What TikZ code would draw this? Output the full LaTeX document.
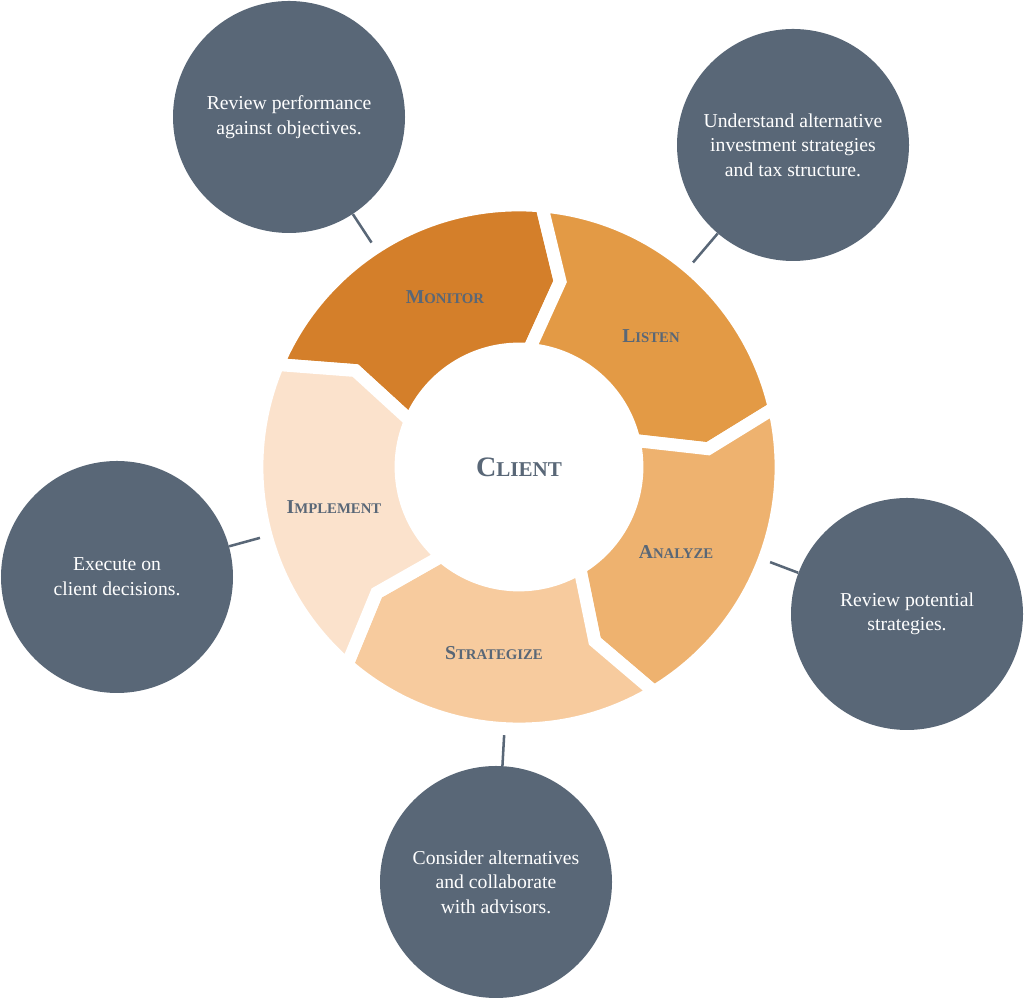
\documentclass[tikz,border=0pt]{standalone}
\usepackage{fontspec}
\setmainfont{Liberation Serif}
\usetikzlibrary{calc}
\definecolor{slate}{HTML}{596777}
\definecolor{cmon}{HTML}{D47F2A}
\definecolor{clis}{HTML}{E39A45}
\definecolor{cana}{HTML}{EEB26F}
\definecolor{cstr}{HTML}{F7CB9E}
\definecolor{cimp}{HTML}{FBE2CC}
\newcommand\smcap[4]{{\fontsize{#1}{#1}\selectfont #3}{\fontsize{#2}{#1}\selectfont #4}}
\newcommand\segpath[2]{(#1:6.55) arc[start angle=#1, end angle=#2, radius=6.55cm] -- (#2-7.5:4.75) -- (#2:2.95) arc[start angle=#2, end angle=#1, radius=2.95cm] -- (#1-7.5:4.75) -- cycle}
\begin{document}
\begin{tikzpicture}[
  font=\fontsize{14}{17.5}\selectfont,
  bubble/.style={circle, fill=slate, minimum size=5.8cm, inner sep=0pt, text=white, align=center},
  seglabel/.style={text=slate, font=\bfseries},
  link/.style={draw=slate, line width=1.8pt},
  seg/.style={draw=white, line width=0.32cm, line join=miter}
]
\useasboundingbox (0,0) rectangle (25.6,24.975);
\coordinate (hub) at (12.975,13.3);
% outer circles
\node[bubble] (mon) at (7.225,22.05) {Review performance\\against objectives.};
\node[bubble] (lis) at (19.825,21.35) {Understand alternative\\investment strategies\\and tax structure.};
\node[bubble] (ana) at (22.675,9.625) {Review potential\\strategies.};
\node[bubble] (str) at (12.4,2.925) {Consider alternatives\\and collaborate\\with advisors.};
\node[bubble] (imp) at (2.925,10.55) {Execute on\\client decisions.};
% connectors
\foreach \c in {mon,lis,ana,str,imp}
  \draw[link] ($(hub)!6.4cm!(\c)$) -- (\c);
% ring
\begin{scope}[shift={(hub)}]
\fill[cmon, seg] \segpath{157}{85};
\fill[clis, seg] \segpath{85}{13};
\fill[cana, seg] \segpath{13}{-59};
\fill[cstr, seg] \segpath{-59}{-131};
\fill[cimp, seg] \segpath{-131}{-203};
\fill[white] (0,0) circle (2.95);
\end{scope}
% labels
\node[seglabel] (client) at (hub) {\smcap{20}{15}{C}{LIENT}};
\node[seglabel] (lmon) at (11.125,17.55) {\smcap{14}{10.5}{M}{ONITOR}};
\node[seglabel] (llis) at (16.275,16.575) {\smcap{14}{10.5}{L}{ISTEN}};
\node[seglabel] (lana) at (16.9,11.175) {\smcap{14}{10.5}{A}{NALYZE}};
\node[seglabel] (lstr) at (12.35,8.65) {\smcap{14}{10.5}{S}{TRATEGIZE}};
\node[seglabel] (limp) at (8.35,12.3) {\smcap{14}{10.5}{I}{MPLEMENT}};
\end{tikzpicture}
\end{document}
